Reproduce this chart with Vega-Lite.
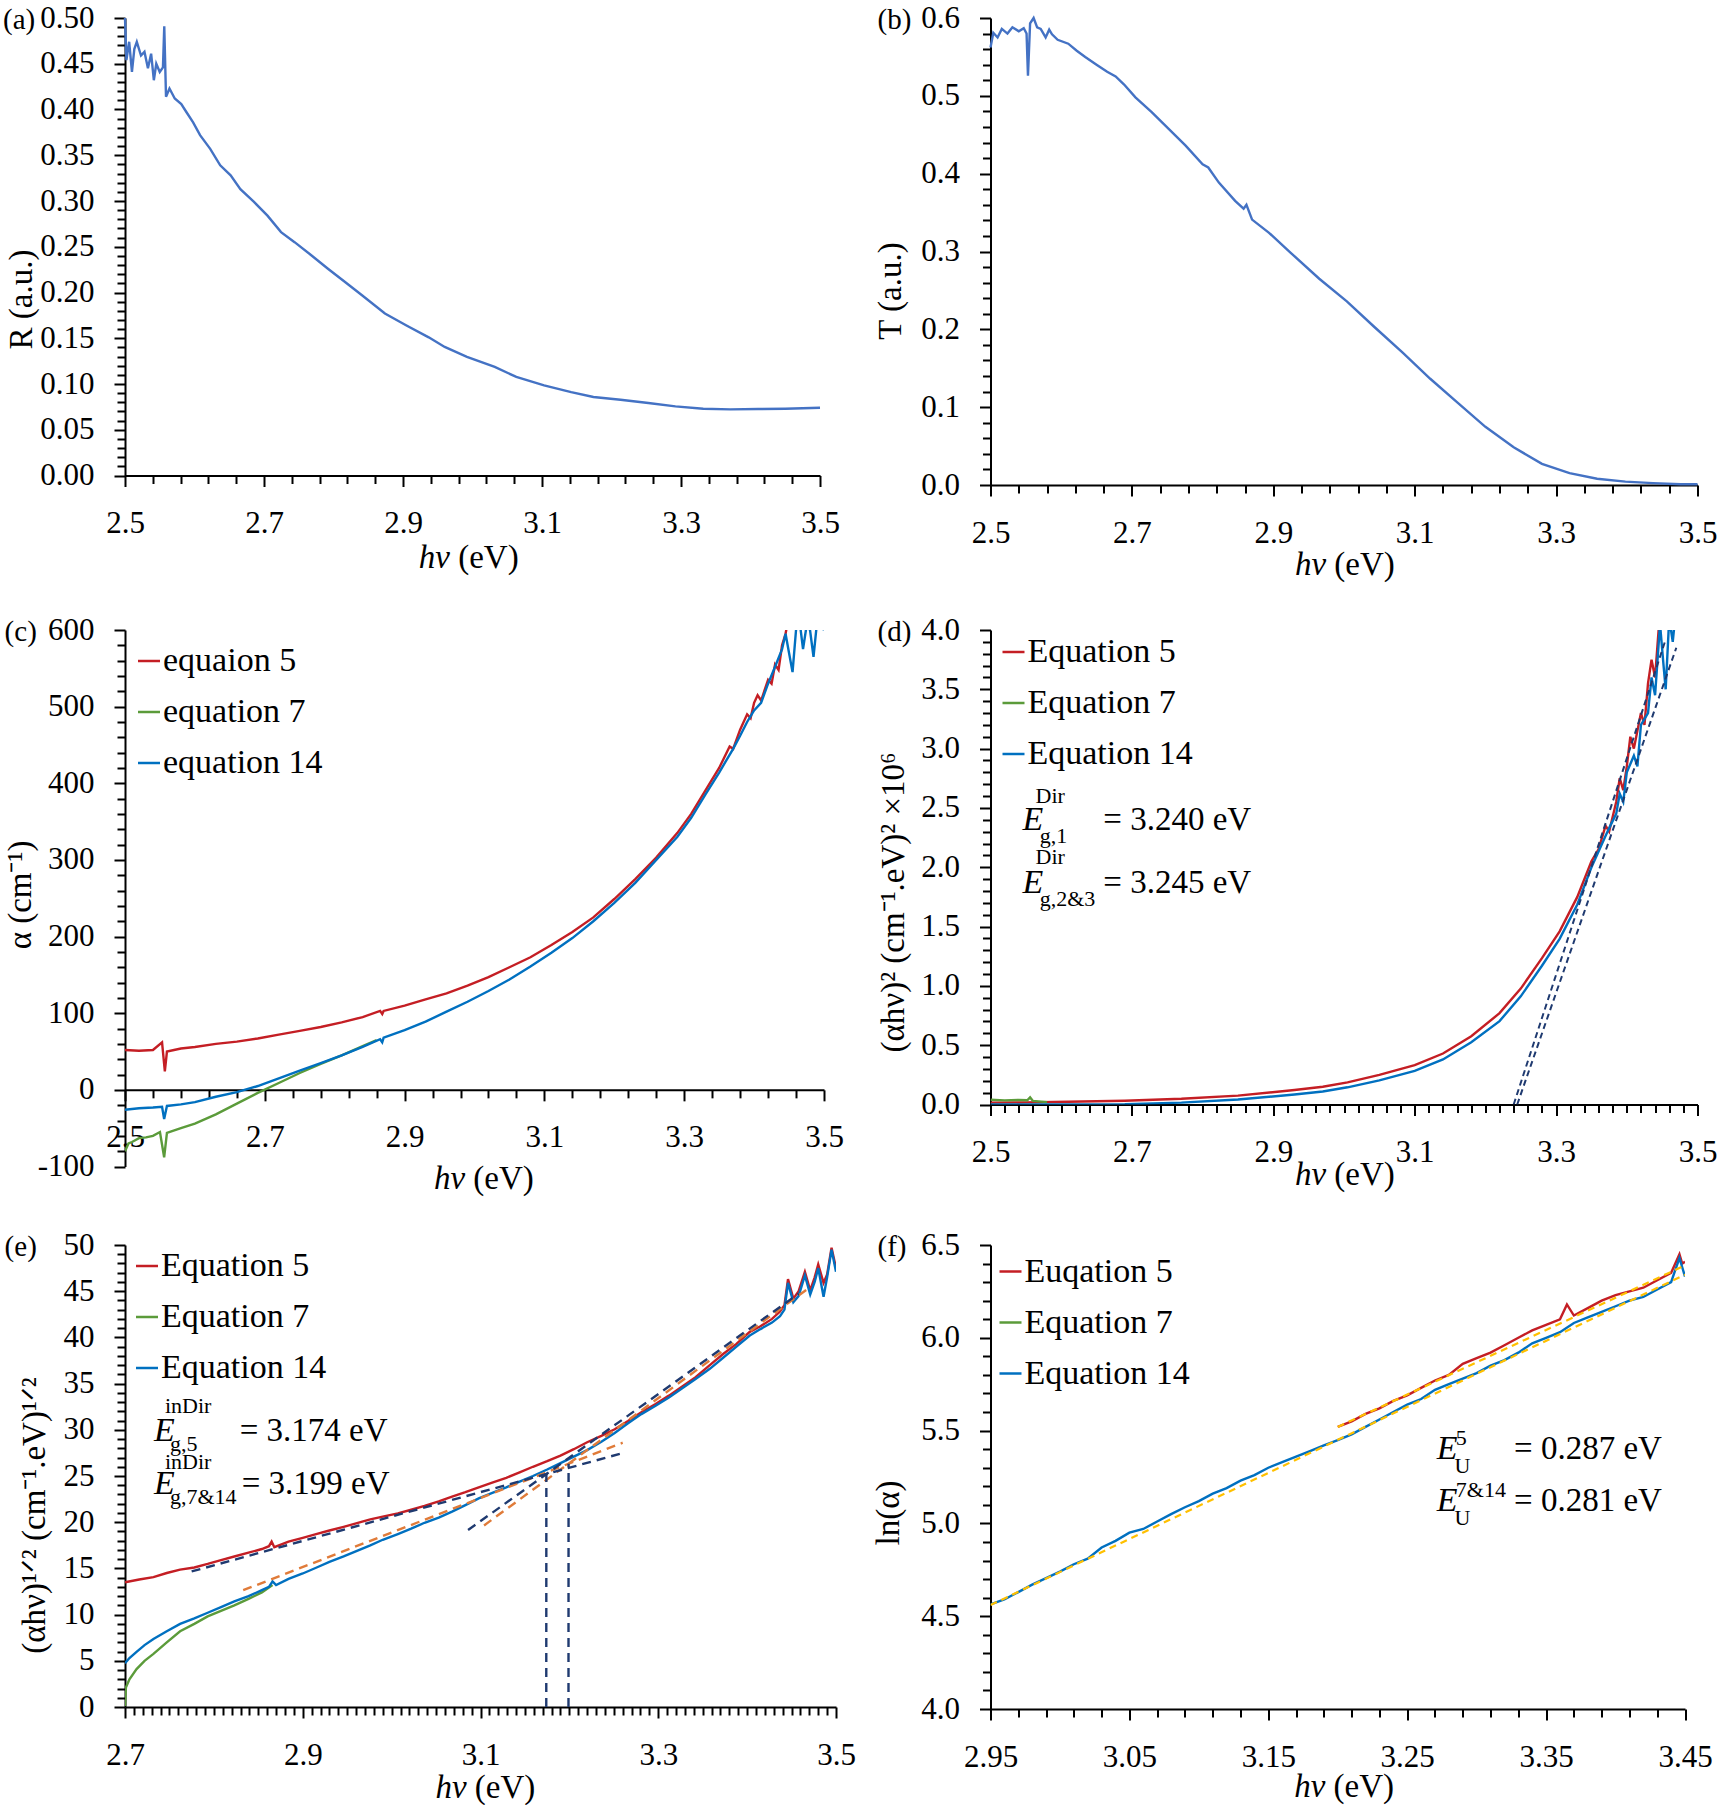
{
"$schema": "https://vega.github.io/schema/vega-lite/v6.json",
"padding": {"left": 3, "top": 2, "right": 0, "bottom": 0},
"background": "white",
"columns": 2,
"spacing": {"row": 32, "column": 16.5},
"bounds": "full",
"resolve": {"scale": {"color": "independent"}, "legend": {"color": "independent"}},
"config": {
 "font": "Liberation Serif",
 "view": {"stroke": null},
 "axis": {"grid": false, "domainColor": "black", "domainWidth": 2, "tickColor": "black", "tickWidth": 2, "labelColor": "black", "labelFont": "Liberation Serif", "labelFontSize": 31, "titleFont": "Liberation Serif", "titleFontSize": 33, "titleFontWeight": "normal", "titleColor": "black", "labelOverlap": false, "labelFlush": false, "labelBound": false, "tickCount": 200},
 "axisX": {"labelPadding": 22},
 "axisY": {"labelPadding": 20},
 "legend": {"labelFont": "Liberation Serif", "labelFontSize": 34, "labelColor": "black", "symbolType": "stroke", "symbolStrokeWidth": 2.5, "symbolSize": 484, "labelOffset": -3, "padding": 0, "rowPadding": 17, "offset": 0, "labelLimit": 400},
 "text": {"font": "Liberation Serif", "fontSize": 33, "color": "black"}
},
"datasets": {
 "a": [{"x":2.5,"y":0.5},{"x":2.502,"y":0.454},{"x":2.506,"y":0.474},{"x":2.51,"y":0.441},{"x":2.5134,"y":0.466},{"x":2.517,"y":0.474},{"x":2.523,"y":0.459},{"x":2.528,"y":0.463},{"x":2.533,"y":0.445},{"x":2.5376,"y":0.461},{"x":2.5415,"y":0.432},{"x":2.545,"y":0.45},{"x":2.55,"y":0.441},{"x":2.5546,"y":0.446},{"x":2.5565,"y":0.491},{"x":2.559,"y":0.414},{"x":2.564,"y":0.423},{"x":2.5716,"y":0.412},{"x":2.581,"y":0.406},{"x":2.5885,"y":0.397},{"x":2.598,"y":0.386},{"x":2.608,"y":0.372},{"x":2.6226,"y":0.357},{"x":2.637,"y":0.339},{"x":2.652,"y":0.328},{"x":2.666,"y":0.313},{"x":2.6856,"y":0.299},{"x":2.705,"y":0.284},{"x":2.7245,"y":0.266},{"x":2.744,"y":0.255},{"x":2.768,"y":0.2407},{"x":2.792,"y":0.226},{"x":2.8166,"y":0.2115},{"x":2.841,"y":0.197},{"x":2.874,"y":0.177},{"x":2.905,"y":0.164},{"x":2.937,"y":0.151},{"x":2.96,"y":0.1405},{"x":2.992,"y":0.1296},{"x":3.032,"y":0.1186},{"x":3.063,"y":0.1077},{"x":3.103,"y":0.0985},{"x":3.142,"y":0.0912},{"x":3.174,"y":0.0858},{"x":3.213,"y":0.0828},{"x":3.253,"y":0.0792},{"x":3.292,"y":0.0755},{"x":3.332,"y":0.073},{"x":3.371,"y":0.0723},{"x":3.411,"y":0.0726},{"x":3.45,"y":0.073},{"x":3.5,"y":0.074}],
 "b": [{"x":2.5,"y":0.562},{"x":2.504,"y":0.581},{"x":2.51,"y":0.575},{"x":2.516,"y":0.586},{"x":2.524,"y":0.58},{"x":2.531,"y":0.588},{"x":2.54,"y":0.583},{"x":2.547,"y":0.587},{"x":2.551,"y":0.58},{"x":2.553,"y":0.526},{"x":2.556,"y":0.593},{"x":2.561,"y":0.6},{"x":2.566,"y":0.588},{"x":2.571,"y":0.586},{"x":2.578,"y":0.575},{"x":2.583,"y":0.585},{"x":2.587,"y":0.579},{"x":2.595,"y":0.572},{"x":2.61,"y":0.567},{"x":2.622,"y":0.558},{"x":2.634,"y":0.55},{"x":2.65,"y":0.54},{"x":2.665,"y":0.531},{"x":2.677,"y":0.525},{"x":2.689,"y":0.5145},{"x":2.705,"y":0.498},{"x":2.728,"y":0.479},{"x":2.752,"y":0.4575},{"x":2.776,"y":0.436},{"x":2.8,"y":0.412},{"x":2.808,"y":0.408},{"x":2.823,"y":0.3885},{"x":2.846,"y":0.365},{"x":2.858,"y":0.355},{"x":2.862,"y":0.36},{"x":2.87,"y":0.341},{"x":2.894,"y":0.324},{"x":2.925,"y":0.298},{"x":2.965,"y":0.265},{"x":3.004,"y":0.236},{"x":3.043,"y":0.203},{"x":3.083,"y":0.17},{"x":3.122,"y":0.1365},{"x":3.161,"y":0.1056},{"x":3.2,"y":0.0748},{"x":3.24,"y":0.0485},{"x":3.28,"y":0.0271},{"x":3.319,"y":0.0152},{"x":3.358,"y":0.0081},{"x":3.398,"y":0.0043},{"x":3.437,"y":0.0024},{"x":3.476,"y":0.001},{"x":3.5,"y":0.001}],
 "c": [
  {"s":"equaion 5","x":2.5,"y":52},{"s":"equaion 5","x":2.52,"y":51},{"s":"equaion 5","x":2.54,"y":52},{"s":"equaion 5","x":2.553,"y":62},{"s":"equaion 5","x":2.557,"y":24},{"s":"equaion 5","x":2.56,"y":50},{"s":"equaion 5","x":2.58,"y":54},{"s":"equaion 5","x":2.6,"y":56},{"s":"equaion 5","x":2.63,"y":60},{"s":"equaion 5","x":2.66,"y":63},{"s":"equaion 5","x":2.69,"y":67},{"s":"equaion 5","x":2.72,"y":72},{"s":"equaion 5","x":2.75,"y":77},{"s":"equaion 5","x":2.78,"y":82},{"s":"equaion 5","x":2.81,"y":88},{"s":"equaion 5","x":2.84,"y":95},{"s":"equaion 5","x":2.865,"y":103},{"s":"equaion 5","x":2.868,"y":99},{"s":"equaion 5","x":2.87,"y":103},{"s":"equaion 5","x":2.9,"y":110},{"s":"equaion 5","x":2.93,"y":118},{"s":"equaion 5","x":2.96,"y":126},{"s":"equaion 5","x":2.99,"y":136},{"s":"equaion 5","x":3.02,"y":147},{"s":"equaion 5","x":3.05,"y":160},{"s":"equaion 5","x":3.08,"y":173},{"s":"equaion 5","x":3.11,"y":189},{"s":"equaion 5","x":3.14,"y":206},{"s":"equaion 5","x":3.17,"y":225},{"s":"equaion 5","x":3.2,"y":249},{"s":"equaion 5","x":3.23,"y":275},{"s":"equaion 5","x":3.26,"y":303},{"s":"equaion 5","x":3.29,"y":335},{"s":"equaion 5","x":3.31,"y":360},{"s":"equaion 5","x":3.33,"y":390},{"s":"equaion 5","x":3.35,"y":420},{"s":"equaion 5","x":3.365,"y":448},{"s":"equaion 5","x":3.37,"y":445},{"s":"equaion 5","x":3.38,"y":470},{"s":"equaion 5","x":3.39,"y":490},{"s":"equaion 5","x":3.395,"y":485},{"s":"equaion 5","x":3.4,"y":505},{"s":"equaion 5","x":3.405,"y":515},{"s":"equaion 5","x":3.41,"y":508},{"s":"equaion 5","x":3.42,"y":535},{"s":"equaion 5","x":3.425,"y":530},{"s":"equaion 5","x":3.43,"y":555},{"s":"equaion 5","x":3.435,"y":548},{"s":"equaion 5","x":3.44,"y":580},{"s":"equaion 5","x":3.445,"y":595},{"s":"equaion 5","x":3.45,"y":620},
  {"s":"equation 7","x":2.5,"y":-80},{"s":"equation 7","x":2.505,"y":-70},{"s":"equation 7","x":2.51,"y":-68},{"s":"equation 7","x":2.52,"y":-63},{"s":"equation 7","x":2.53,"y":-62},{"s":"equation 7","x":2.54,"y":-60},{"s":"equation 7","x":2.55,"y":-55},{"s":"equation 7","x":2.556,"y":-88},{"s":"equation 7","x":2.56,"y":-56},{"s":"equation 7","x":2.58,"y":-50},{"s":"equation 7","x":2.6,"y":-44},{"s":"equation 7","x":2.63,"y":-32},{"s":"equation 7","x":2.66,"y":-18},{"s":"equation 7","x":2.69,"y":-4},{"s":"equation 7","x":2.72,"y":9},{"s":"equation 7","x":2.75,"y":22},{"s":"equation 7","x":2.78,"y":34},{"s":"equation 7","x":2.81,"y":45},{"s":"equation 7","x":2.84,"y":57},{"s":"equation 7","x":2.86,"y":65},
  {"s":"equation 14","x":2.5,"y":-26},{"s":"equation 14","x":2.52,"y":-24},{"s":"equation 14","x":2.54,"y":-23},{"s":"equation 14","x":2.553,"y":-22},{"s":"equation 14","x":2.556,"y":-38},{"s":"equation 14","x":2.56,"y":-21},{"s":"equation 14","x":2.58,"y":-19},{"s":"equation 14","x":2.6,"y":-16},{"s":"equation 14","x":2.63,"y":-9},{"s":"equation 14","x":2.66,"y":-3},{"s":"equation 14","x":2.69,"y":5},{"s":"equation 14","x":2.72,"y":15},{"s":"equation 14","x":2.75,"y":25},{"s":"equation 14","x":2.78,"y":35},{"s":"equation 14","x":2.81,"y":45},{"s":"equation 14","x":2.84,"y":56},{"s":"equation 14","x":2.865,"y":66},{"s":"equation 14","x":2.868,"y":62},{"s":"equation 14","x":2.87,"y":68},{"s":"equation 14","x":2.9,"y":78},{"s":"equation 14","x":2.93,"y":89},{"s":"equation 14","x":2.96,"y":102},{"s":"equation 14","x":2.99,"y":115},{"s":"equation 14","x":3.02,"y":129},{"s":"equation 14","x":3.05,"y":144},{"s":"equation 14","x":3.08,"y":161},{"s":"equation 14","x":3.11,"y":179},{"s":"equation 14","x":3.14,"y":198},{"s":"equation 14","x":3.17,"y":220},{"s":"equation 14","x":3.2,"y":244},{"s":"equation 14","x":3.23,"y":270},{"s":"equation 14","x":3.26,"y":300},{"s":"equation 14","x":3.29,"y":330},{"s":"equation 14","x":3.31,"y":355},{"s":"equation 14","x":3.33,"y":385},{"s":"equation 14","x":3.35,"y":414},{"s":"equation 14","x":3.37,"y":445},{"s":"equation 14","x":3.38,"y":462},{"s":"equation 14","x":3.39,"y":480},{"s":"equation 14","x":3.4,"y":495},{"s":"equation 14","x":3.41,"y":505},{"s":"equation 14","x":3.42,"y":530},{"s":"equation 14","x":3.43,"y":552},{"s":"equation 14","x":3.44,"y":575},{"s":"equation 14","x":3.445,"y":595},{"s":"equation 14","x":3.45,"y":570},{"s":"equation 14","x":3.455,"y":545},{"s":"equation 14","x":3.46,"y":600},{"s":"equation 14","x":3.465,"y":612},{"s":"equation 14","x":3.47,"y":575},{"s":"equation 14","x":3.475,"y":605},{"s":"equation 14","x":3.48,"y":600},{"s":"equation 14","x":3.485,"y":565},{"s":"equation 14","x":3.49,"y":610},{"s":"equation 14","x":3.5,"y":600}
 ],
 "d": [
  {"s":"Equation 5","x":2.5,"y":0.016},{"s":"Equation 5","x":2.55,"y":0.018},{"s":"Equation 5","x":2.61,"y":0.023},{"s":"Equation 5","x":2.69,"y":0.032},{"s":"Equation 5","x":2.77,"y":0.048},{"s":"Equation 5","x":2.85,"y":0.075},{"s":"Equation 5","x":2.93,"y":0.122},{"s":"Equation 5","x":2.97,"y":0.15},{"s":"Equation 5","x":3.005,"y":0.187},{"s":"Equation 5","x":3.05,"y":0.25},{"s":"Equation 5","x":3.1,"y":0.332},{"s":"Equation 5","x":3.14,"y":0.43},{"s":"Equation 5","x":3.18,"y":0.575},{"s":"Equation 5","x":3.22,"y":0.77},{"s":"Equation 5","x":3.25,"y":0.977},{"s":"Equation 5","x":3.28,"y":1.234},{"s":"Equation 5","x":3.305,"y":1.46},{"s":"Equation 5","x":3.33,"y":1.75},{"s":"Equation 5","x":3.35,"y":2.05},{"s":"Equation 5","x":3.36,"y":2.15},{"s":"Equation 5","x":3.37,"y":2.35},{"s":"Equation 5","x":3.375,"y":2.3},{"s":"Equation 5","x":3.385,"y":2.55},{"s":"Equation 5","x":3.39,"y":2.75},{"s":"Equation 5","x":3.395,"y":2.65},{"s":"Equation 5","x":3.4,"y":2.85},{"s":"Equation 5","x":3.405,"y":3.1},{"s":"Equation 5","x":3.41,"y":3.0},{"s":"Equation 5","x":3.42,"y":3.3},{"s":"Equation 5","x":3.425,"y":3.2},{"s":"Equation 5","x":3.43,"y":3.55},{"s":"Equation 5","x":3.435,"y":3.75},{"s":"Equation 5","x":3.44,"y":3.6},{"s":"Equation 5","x":3.445,"y":4.0},{"s":"Equation 5","x":3.45,"y":4.2},
  {"s":"Equation 7","x":2.5,"y":0.04},{"s":"Equation 7","x":2.52,"y":0.035},{"s":"Equation 7","x":2.54,"y":0.038},{"s":"Equation 7","x":2.552,"y":0.036},{"s":"Equation 7","x":2.556,"y":0.06},{"s":"Equation 7","x":2.56,"y":0.03},{"s":"Equation 7","x":2.58,"y":0.02},
  {"s":"Equation 14","x":2.5,"y":0.0},{"s":"Equation 14","x":2.6,"y":0.001},{"s":"Equation 14","x":2.69,"y":0.003},{"s":"Equation 14","x":2.77,"y":0.016},{"s":"Equation 14","x":2.85,"y":0.042},{"s":"Equation 14","x":2.93,"y":0.084},{"s":"Equation 14","x":2.97,"y":0.11},{"s":"Equation 14","x":3.005,"y":0.145},{"s":"Equation 14","x":3.05,"y":0.203},{"s":"Equation 14","x":3.1,"y":0.284},{"s":"Equation 14","x":3.14,"y":0.38},{"s":"Equation 14","x":3.18,"y":0.525},{"s":"Equation 14","x":3.22,"y":0.703},{"s":"Equation 14","x":3.25,"y":0.912},{"s":"Equation 14","x":3.28,"y":1.17},{"s":"Equation 14","x":3.305,"y":1.396},{"s":"Equation 14","x":3.33,"y":1.686},{"s":"Equation 14","x":3.35,"y":2.0},{"s":"Equation 14","x":3.375,"y":2.33},{"s":"Equation 14","x":3.385,"y":2.45},{"s":"Equation 14","x":3.39,"y":2.62},{"s":"Equation 14","x":3.395,"y":2.55},{"s":"Equation 14","x":3.4,"y":2.8},{"s":"Equation 14","x":3.41,"y":2.94},{"s":"Equation 14","x":3.415,"y":2.85},{"s":"Equation 14","x":3.42,"y":3.2},{"s":"Equation 14","x":3.43,"y":3.3},{"s":"Equation 14","x":3.435,"y":3.6},{"s":"Equation 14","x":3.44,"y":3.45},{"s":"Equation 14","x":3.447,"y":4.05},{"s":"Equation 14","x":3.452,"y":3.7},{"s":"Equation 14","x":3.455,"y":3.5},{"s":"Equation 14","x":3.46,"y":4.1},{"s":"Equation 14","x":3.465,"y":3.9},{"s":"Equation 14","x":3.47,"y":4.2}
 ],
 "dfit": [{"g":"d1","x":3.24,"y":0},{"g":"d1","x":3.455,"y":3.92},{"g":"d2","x":3.245,"y":0},{"g":"d2","x":3.47,"y":3.85}],
 "e": [
  {"s":"Equation 5","x":2.7,"y":13.5},{"s":"Equation 5","x":2.716,"y":13.8},{"s":"Equation 5","x":2.732,"y":14.06},{"s":"Equation 5","x":2.747,"y":14.5},{"s":"Equation 5","x":2.762,"y":14.87},{"s":"Equation 5","x":2.778,"y":15.1},{"s":"Equation 5","x":2.793,"y":15.48},{"s":"Equation 5","x":2.808,"y":15.9},{"s":"Equation 5","x":2.823,"y":16.29},{"s":"Equation 5","x":2.839,"y":16.7},{"s":"Equation 5","x":2.854,"y":17.1},{"s":"Equation 5","x":2.862,"y":17.4},{"s":"Equation 5","x":2.865,"y":17.9},{"s":"Equation 5","x":2.868,"y":17.3},{"s":"Equation 5","x":2.884,"y":17.9},{"s":"Equation 5","x":2.9,"y":18.3},{"s":"Equation 5","x":2.915,"y":18.7},{"s":"Equation 5","x":2.93,"y":19.1},{"s":"Equation 5","x":2.946,"y":19.5},{"s":"Equation 5","x":2.961,"y":19.9},{"s":"Equation 5","x":2.976,"y":20.3},{"s":"Equation 5","x":2.99,"y":20.6},{"s":"Equation 5","x":3.007,"y":20.95},{"s":"Equation 5","x":3.022,"y":21.35},{"s":"Equation 5","x":3.037,"y":21.76},{"s":"Equation 5","x":3.053,"y":22.25},{"s":"Equation 5","x":3.068,"y":22.77},{"s":"Equation 5","x":3.083,"y":23.25},{"s":"Equation 5","x":3.098,"y":23.78},{"s":"Equation 5","x":3.114,"y":24.3},{"s":"Equation 5","x":3.129,"y":24.8},{"s":"Equation 5","x":3.144,"y":25.4},{"s":"Equation 5","x":3.159,"y":26.0},{"s":"Equation 5","x":3.175,"y":26.6},{"s":"Equation 5","x":3.19,"y":27.2},{"s":"Equation 5","x":3.205,"y":27.9},{"s":"Equation 5","x":3.22,"y":28.65},{"s":"Equation 5","x":3.236,"y":29.35},{"s":"Equation 5","x":3.251,"y":30.06},{"s":"Equation 5","x":3.266,"y":30.95},{"s":"Equation 5","x":3.281,"y":31.9},{"s":"Equation 5","x":3.297,"y":32.8},{"s":"Equation 5","x":3.312,"y":33.7},{"s":"Equation 5","x":3.327,"y":34.7},{"s":"Equation 5","x":3.342,"y":35.7},{"s":"Equation 5","x":3.358,"y":37.0},{"s":"Equation 5","x":3.373,"y":38.2},{"s":"Equation 5","x":3.388,"y":39.3},{"s":"Equation 5","x":3.403,"y":40.6},{"s":"Equation 5","x":3.415,"y":41.2},{"s":"Equation 5","x":3.428,"y":42.0},{"s":"Equation 5","x":3.437,"y":42.8},{"s":"Equation 5","x":3.442,"y":43.5},{"s":"Equation 5","x":3.446,"y":46.3},{"s":"Equation 5","x":3.452,"y":44.2},{"s":"Equation 5","x":3.458,"y":45.0},{"s":"Equation 5","x":3.465,"y":47.1},{"s":"Equation 5","x":3.471,"y":45.1},{"s":"Equation 5","x":3.476,"y":46.5},{"s":"Equation 5","x":3.48,"y":47.9},{"s":"Equation 5","x":3.486,"y":45.9},{"s":"Equation 5","x":3.49,"y":46.8},{"s":"Equation 5","x":3.495,"y":49.7},{"s":"Equation 5","x":3.5,"y":47.5},
  {"s":"Equation 7","x":2.7,"y":0.1},{"s":"Equation 7","x":2.701,"y":2.1},{"s":"Equation 7","x":2.705,"y":3.0},{"s":"Equation 7","x":2.713,"y":4.1},{"s":"Equation 7","x":2.722,"y":5.0},{"s":"Equation 7","x":2.732,"y":5.75},{"s":"Equation 7","x":2.747,"y":7.0},{"s":"Equation 7","x":2.762,"y":8.2},{"s":"Equation 7","x":2.778,"y":9.0},{"s":"Equation 7","x":2.793,"y":9.8},{"s":"Equation 7","x":2.808,"y":10.4},{"s":"Equation 7","x":2.823,"y":11.0},{"s":"Equation 7","x":2.839,"y":11.7},{"s":"Equation 7","x":2.854,"y":12.4},{"s":"Equation 7","x":2.866,"y":13.2},
  {"s":"Equation 14","x":2.7,"y":4.74},{"s":"Equation 14","x":2.705,"y":5.3},{"s":"Equation 14","x":2.713,"y":5.96},{"s":"Equation 14","x":2.722,"y":6.7},{"s":"Equation 14","x":2.732,"y":7.37},{"s":"Equation 14","x":2.747,"y":8.2},{"s":"Equation 14","x":2.762,"y":9.0},{"s":"Equation 14","x":2.778,"y":9.6},{"s":"Equation 14","x":2.793,"y":10.2},{"s":"Equation 14","x":2.808,"y":10.8},{"s":"Equation 14","x":2.823,"y":11.43},{"s":"Equation 14","x":2.839,"y":12.0},{"s":"Equation 14","x":2.854,"y":12.64},{"s":"Equation 14","x":2.862,"y":13.0},{"s":"Equation 14","x":2.866,"y":13.6},{"s":"Equation 14","x":2.87,"y":13.2},{"s":"Equation 14","x":2.884,"y":13.86},{"s":"Equation 14","x":2.9,"y":14.45},{"s":"Equation 14","x":2.915,"y":15.07},{"s":"Equation 14","x":2.93,"y":15.7},{"s":"Equation 14","x":2.946,"y":16.29},{"s":"Equation 14","x":2.961,"y":16.9},{"s":"Equation 14","x":2.976,"y":17.5},{"s":"Equation 14","x":2.99,"y":18.1},{"s":"Equation 14","x":3.007,"y":18.72},{"s":"Equation 14","x":3.022,"y":19.3},{"s":"Equation 14","x":3.037,"y":19.94},{"s":"Equation 14","x":3.053,"y":20.5},{"s":"Equation 14","x":3.068,"y":21.15},{"s":"Equation 14","x":3.083,"y":21.85},{"s":"Equation 14","x":3.098,"y":22.57},{"s":"Equation 14","x":3.114,"y":23.2},{"s":"Equation 14","x":3.129,"y":23.78},{"s":"Equation 14","x":3.144,"y":24.4},{"s":"Equation 14","x":3.159,"y":25.0},{"s":"Equation 14","x":3.175,"y":25.7},{"s":"Equation 14","x":3.19,"y":26.4},{"s":"Equation 14","x":3.205,"y":27.1},{"s":"Equation 14","x":3.22,"y":27.8},{"s":"Equation 14","x":3.236,"y":28.7},{"s":"Equation 14","x":3.251,"y":29.66},{"s":"Equation 14","x":3.266,"y":30.7},{"s":"Equation 14","x":3.281,"y":31.7},{"s":"Equation 14","x":3.297,"y":32.6},{"s":"Equation 14","x":3.312,"y":33.5},{"s":"Equation 14","x":3.327,"y":34.5},{"s":"Equation 14","x":3.342,"y":35.5},{"s":"Equation 14","x":3.358,"y":36.6},{"s":"Equation 14","x":3.373,"y":37.8},{"s":"Equation 14","x":3.388,"y":39.0},{"s":"Equation 14","x":3.403,"y":40.2},{"s":"Equation 14","x":3.415,"y":40.9},{"s":"Equation 14","x":3.428,"y":41.6},{"s":"Equation 14","x":3.437,"y":42.3},{"s":"Equation 14","x":3.442,"y":43.0},{"s":"Equation 14","x":3.446,"y":45.9},{"s":"Equation 14","x":3.452,"y":43.8},{"s":"Equation 14","x":3.458,"y":44.5},{"s":"Equation 14","x":3.465,"y":46.7},{"s":"Equation 14","x":3.471,"y":44.65},{"s":"Equation 14","x":3.476,"y":46.0},{"s":"Equation 14","x":3.48,"y":47.5},{"s":"Equation 14","x":3.486,"y":44.4},{"s":"Equation 14","x":3.49,"y":46.5},{"s":"Equation 14","x":3.495,"y":49.5},{"s":"Equation 14","x":3.5,"y":47.1}
 ],
 "efitN": [{"g":"n1","x":2.775,"y":14.67},{"g":"n1","x":3.257,"y":27.4},{"g":"n2","x":3.086,"y":19.15},{"g":"n2","x":3.458,"y":44.74},{"g":"n3","x":3.174,"y":0},{"g":"n3","x":3.1741,"y":25.2},{"g":"n4","x":3.199,"y":0},{"g":"n4","x":3.1991,"y":26.33}],
 "efitO": [{"g":"o1","x":2.833,"y":12.64},{"g":"o1","x":3.26,"y":28.6},{"g":"o2","x":3.104,"y":19.65},{"g":"o2","x":3.471,"y":45.45}],
 "f": [
  {"s":"Euqation 5","x":3.2,"y":5.52},{"s":"Euqation 5","x":3.21,"y":5.55},{"s":"Euqation 5","x":3.22,"y":5.59},{"s":"Euqation 5","x":3.23,"y":5.62},{"s":"Euqation 5","x":3.24,"y":5.66},{"s":"Euqation 5","x":3.25,"y":5.69},{"s":"Euqation 5","x":3.26,"y":5.73},{"s":"Euqation 5","x":3.27,"y":5.77},{"s":"Euqation 5","x":3.28,"y":5.8},{"s":"Euqation 5","x":3.29,"y":5.86},{"s":"Euqation 5","x":3.3,"y":5.89},{"s":"Euqation 5","x":3.31,"y":5.92},{"s":"Euqation 5","x":3.32,"y":5.96},{"s":"Euqation 5","x":3.33,"y":6.0},{"s":"Euqation 5","x":3.34,"y":6.04},{"s":"Euqation 5","x":3.35,"y":6.07},{"s":"Euqation 5","x":3.36,"y":6.1},{"s":"Euqation 5","x":3.365,"y":6.18},{"s":"Euqation 5","x":3.37,"y":6.12},{"s":"Euqation 5","x":3.38,"y":6.16},{"s":"Euqation 5","x":3.39,"y":6.2},{"s":"Euqation 5","x":3.4,"y":6.23},{"s":"Euqation 5","x":3.41,"y":6.25},{"s":"Euqation 5","x":3.42,"y":6.27},{"s":"Euqation 5","x":3.43,"y":6.31},{"s":"Euqation 5","x":3.44,"y":6.35},{"s":"Euqation 5","x":3.446,"y":6.45},{"s":"Euqation 5","x":3.448,"y":6.4},{"s":"Euqation 5","x":3.45,"y":6.41},
  {"s":"Equation 14","x":2.95,"y":4.564},{"s":"Equation 14","x":2.96,"y":4.59},{"s":"Equation 14","x":2.97,"y":4.63},{"s":"Equation 14","x":2.98,"y":4.67},{"s":"Equation 14","x":2.99,"y":4.705},{"s":"Equation 14","x":3.0,"y":4.74},{"s":"Equation 14","x":3.01,"y":4.78},{"s":"Equation 14","x":3.02,"y":4.81},{"s":"Equation 14","x":3.03,"y":4.87},{"s":"Equation 14","x":3.04,"y":4.906},{"s":"Equation 14","x":3.05,"y":4.95},{"s":"Equation 14","x":3.06,"y":4.97},{"s":"Equation 14","x":3.07,"y":5.01},{"s":"Equation 14","x":3.08,"y":5.05},{"s":"Equation 14","x":3.09,"y":5.087},{"s":"Equation 14","x":3.1,"y":5.12},{"s":"Equation 14","x":3.11,"y":5.16},{"s":"Equation 14","x":3.12,"y":5.19},{"s":"Equation 14","x":3.13,"y":5.23},{"s":"Equation 14","x":3.14,"y":5.26},{"s":"Equation 14","x":3.15,"y":5.3},{"s":"Equation 14","x":3.16,"y":5.33},{"s":"Equation 14","x":3.17,"y":5.36},{"s":"Equation 14","x":3.18,"y":5.39},{"s":"Equation 14","x":3.19,"y":5.42},{"s":"Equation 14","x":3.2,"y":5.449},{"s":"Equation 14","x":3.21,"y":5.48},{"s":"Equation 14","x":3.22,"y":5.52},{"s":"Equation 14","x":3.23,"y":5.56},{"s":"Equation 14","x":3.24,"y":5.6},{"s":"Equation 14","x":3.25,"y":5.64},{"s":"Equation 14","x":3.26,"y":5.67},{"s":"Equation 14","x":3.27,"y":5.72},{"s":"Equation 14","x":3.28,"y":5.75},{"s":"Equation 14","x":3.29,"y":5.78},{"s":"Equation 14","x":3.3,"y":5.81},{"s":"Equation 14","x":3.31,"y":5.85},{"s":"Equation 14","x":3.32,"y":5.88},{"s":"Equation 14","x":3.33,"y":5.92},{"s":"Equation 14","x":3.34,"y":5.97},{"s":"Equation 14","x":3.35,"y":6.0},{"s":"Equation 14","x":3.36,"y":6.03},{"s":"Equation 14","x":3.37,"y":6.08},{"s":"Equation 14","x":3.38,"y":6.11},{"s":"Equation 14","x":3.39,"y":6.14},{"s":"Equation 14","x":3.4,"y":6.17},{"s":"Equation 14","x":3.41,"y":6.2},{"s":"Equation 14","x":3.42,"y":6.22},{"s":"Equation 14","x":3.43,"y":6.26},{"s":"Equation 14","x":3.44,"y":6.3},{"s":"Equation 14","x":3.446,"y":6.43},{"s":"Equation 14","x":3.448,"y":6.38},{"s":"Equation 14","x":3.45,"y":6.33}
 ],
 "ffit": [{"g":"y1","x":2.95,"y":4.56},{"g":"y1","x":3.45,"y":6.34},{"g":"y2","x":3.2,"y":5.52},{"g":"y2","x":3.45,"y":6.39}]
},
"concat": [
 {
  "width": 695, "height": 457.5,
  "layer": [
   {"data": {"name": "a"}, "mark": {"type": "line", "color": "#4472C4", "strokeWidth": 2.4},
    "encoding": {
     "x": {"field": "x", "type": "quantitative", "scale": {"domain": [2.5, 3.5], "nice": false, "zero": false},
       "axis": {"title": null, "tickCount": 200, "values": [2.5,2.54,2.58,2.62,2.66,2.7,2.74,2.78,2.82,2.86,2.9,2.94,2.98,3.02,3.06,3.1,3.14,3.18,3.22,3.26,3.3,3.34,3.38,3.42,3.46,3.5],
        "labelExpr": "abs((datum.value-2.5)/0.2-round((datum.value-2.5)/0.2))<0.01 ? format(datum.value,'.1f') : ''",
        "tickSize": {"condition": {"test": "abs((datum.value-2.5)/0.2-round((datum.value-2.5)/0.2))<0.01", "value": 11}, "value": 8}}},
     "y": {"field": "y", "type": "quantitative", "scale": {"domain": [0, 0.5], "nice": false},
       "axis": {"title": "R (a.u.)", "titleX": -104, "titleY": 281, "titleBaseline": "middle", "titleAlign": "center", "titleAngle": -90, "tickCount": 200,
        "values": [0,0.01,0.02,0.03,0.04,0.05,0.06,0.07,0.08,0.09,0.1,0.11,0.12,0.13,0.14,0.15,0.16,0.17,0.18,0.19,0.2,0.21,0.22,0.23,0.24,0.25,0.26,0.27,0.28,0.29,0.3,0.31,0.32,0.33,0.34,0.35,0.36,0.37,0.38,0.39,0.4,0.41,0.42,0.43,0.44,0.45,0.46,0.47,0.48,0.49,0.5],
        "labelExpr": "abs(datum.value/0.05-round(datum.value/0.05))<0.01 ? format(datum.value,'.2f') : ''",
        "tickSize": {"condition": {"test": "abs(datum.value/0.05-round(datum.value/0.05))<0.01", "value": 11}, "value": 8}}}
    }},
   {"data": {"values": [{}]}, "mark": {"type": "text", "text": "(a)", "align": "left", "baseline": "middle", "dx": -122, "dy": 2, "fontSize": 29}, "encoding": {"x": {"datum": 2.5}, "y": {"datum": 0.5}}},
   {"data": {"values": [{}]}, "mark": {"type": "text", "text": "hν", "align": "right", "baseline": "middle", "dx": -4.1, "dy": 82.5, "fontStyle": "italic"}, "encoding": {"x": {"datum": 2.9735}, "y": {"datum": 0}}},
   {"data": {"values": [{}]}, "mark": {"type": "text", "text": "(eV)", "align": "left", "baseline": "middle", "dx": 4.1, "dy": 82.5}, "encoding": {"x": {"datum": 2.9735}, "y": {"datum": 0}}}
  ]
 },
 {
  "width": 707, "height": 467,
  "layer": [
   {"data": {"name": "b"}, "mark": {"type": "line", "color": "#4472C4", "strokeWidth": 2.4},
    "encoding": {
     "x": {"field": "x", "type": "quantitative", "scale": {"domain": [2.5, 3.5], "nice": false, "zero": false},
       "axis": {"title": null, "tickCount": 200, "values": [2.5,2.54,2.58,2.62,2.66,2.7,2.74,2.78,2.82,2.86,2.9,2.94,2.98,3.02,3.06,3.1,3.14,3.18,3.22,3.26,3.3,3.34,3.38,3.42,3.46,3.5],
        "labelExpr": "abs((datum.value-2.5)/0.2-round((datum.value-2.5)/0.2))<0.01 ? format(datum.value,'.1f') : ''",
        "tickSize": {"condition": {"test": "abs((datum.value-2.5)/0.2-round((datum.value-2.5)/0.2))<0.01", "value": 11}, "value": 8}}},
     "y": {"field": "y", "type": "quantitative", "scale": {"domain": [0, 0.6], "nice": false},
       "axis": {"title": "T (a.u.)", "titleX": -100.5, "titleY": 272.5, "titleBaseline": "middle", "titleAlign": "center", "titleAngle": -90, "tickCount": 200,
        "values": [0,0.02,0.04,0.06,0.08,0.1,0.12,0.14,0.16,0.18,0.2,0.22,0.24,0.26,0.28,0.3,0.32,0.34,0.36,0.38,0.4,0.42,0.44,0.46,0.48,0.5,0.52,0.54,0.56,0.58,0.6],
        "labelExpr": "abs(datum.value/0.1-round(datum.value/0.1))<0.01 ? format(datum.value,'.1f') : ''",
        "tickSize": {"condition": {"test": "abs(datum.value/0.1-round(datum.value/0.1))<0.01", "value": 11}, "value": 8}}}
    }},
   {"data": {"values": [{}]}, "mark": {"type": "text", "text": "(b)", "align": "left", "baseline": "middle", "dx": -113, "dy": 2, "fontSize": 29}, "encoding": {"x": {"datum": 2.5}, "y": {"datum": 0.6}}},
   {"data": {"values": [{}]}, "mark": {"type": "text", "text": "hν", "align": "right", "baseline": "middle", "dx": -4.1, "dy": 80, "fontStyle": "italic"}, "encoding": {"x": {"datum": 2.9805}, "y": {"datum": 0}}},
   {"data": {"values": [{}]}, "mark": {"type": "text", "text": "(eV)", "align": "left", "baseline": "middle", "dx": 4.1, "dy": 80}, "encoding": {"x": {"datum": 2.9805}, "y": {"datum": 0}}}
  ]
 },
 {
  "width": 699, "height": 536.5,
  "layer": [
   {"data": {"name": "c"}, "mark": {"type": "line", "strokeWidth": 2.4, "clip": true},
    "encoding": {
     "x": {"field": "x", "type": "quantitative", "scale": {"domain": [2.5, 3.5], "nice": false, "zero": false},
       "axis": {"title": null, "offset": -76.64, "tickCount": 200, "values": [2.5,2.54,2.58,2.62,2.66,2.7,2.74,2.78,2.82,2.86,2.9,2.94,2.98,3.02,3.06,3.1,3.14,3.18,3.22,3.26,3.3,3.34,3.38,3.42,3.46,3.5],
        "labelExpr": "abs((datum.value-2.5)/0.2-round((datum.value-2.5)/0.2))<0.01 ? format(datum.value,'.1f') : ''",
        "tickSize": {"condition": {"test": "abs((datum.value-2.5)/0.2-round((datum.value-2.5)/0.2))<0.01", "value": 11}, "value": 8}}},
     "y": {"field": "y", "type": "quantitative", "scale": {"domain": [-100, 600], "nice": false, "zero": false},
       "axis": {"title": "α (cm⁻¹)", "titleX": -104.5, "titleY": 264.5, "titleBaseline": "middle", "titleAlign": "center", "titleAngle": -90, "tickCount": 200,
        "values": [-100,-80,-60,-40,-20,0,20,40,60,80,100,120,140,160,180,200,220,240,260,280,300,320,340,360,380,400,420,440,460,480,500,520,540,560,580,600],
        "labelExpr": "abs(datum.value/100-round(datum.value/100))<0.01 ? '' + round(datum.value) : ''",
        "tickSize": {"condition": {"test": "abs(datum.value/100-round(datum.value/100))<0.01", "value": 11}, "value": 8}}},
     "color": {"field": "s", "type": "nominal", "scale": {"domain": ["equaion 5", "equation 7", "equation 14"], "range": ["#C41E24", "#5B9B3A", "#0070C0"]},
       "legend": {"title": null, "orient": "none", "legendX": 7, "legendY": 14}}
    }},
   {"data": {"values": [{}]}, "mark": {"type": "text", "text": "(c)", "align": "left", "baseline": "middle", "dx": -120.4, "dy": 2, "fontSize": 29}, "encoding": {"x": {"datum": 2.5}, "y": {"datum": 600}}},
   {"data": {"values": [{}]}, "mark": {"type": "text", "text": "hν", "align": "right", "baseline": "middle", "dx": -4.1, "dy": 89.5, "fontStyle": "italic"}, "encoding": {"x": {"datum": 2.9925}, "y": {"datum": 0}}},
   {"data": {"values": [{}]}, "mark": {"type": "text", "text": "(eV)", "align": "left", "baseline": "middle", "dx": 4.1, "dy": 89.5}, "encoding": {"x": {"datum": 2.9925}, "y": {"datum": 0}}}
  ]
 },
 {
  "width": 707, "height": 474.5,
  "layer": [
   {"data": {"name": "d"}, "mark": {"type": "line", "strokeWidth": 2.4, "clip": true},
    "encoding": {
     "x": {"field": "x", "type": "quantitative", "scale": {"domain": [2.5, 3.5], "nice": false, "zero": false},
       "axis": {"title": null, "tickCount": 200, "values": [2.5,2.52,2.54,2.56,2.58,2.6,2.62,2.64,2.66,2.68,2.7,2.72,2.74,2.76,2.78,2.8,2.82,2.84,2.86,2.88,2.9,2.92,2.94,2.96,2.98,3,3.02,3.04,3.06,3.08,3.1,3.12,3.14,3.16,3.18,3.2,3.22,3.24,3.26,3.28,3.3,3.32,3.34,3.36,3.38,3.4,3.42,3.44,3.46,3.48,3.5],
        "labelExpr": "abs((datum.value-2.5)/0.2-round((datum.value-2.5)/0.2))<0.01 ? format(datum.value,'.1f') : ''",
        "tickSize": {"condition": {"test": "abs((datum.value-2.5)/0.2-round((datum.value-2.5)/0.2))<0.01", "value": 11}, "value": 8}}},
     "y": {"field": "y", "type": "quantitative", "scale": {"domain": [0, 4], "nice": false},
       "axis": {"title": "(αhν)² (cm⁻¹.eV)² ×10⁶", "titleX": -97, "titleY": 272, "titleBaseline": "middle", "titleAlign": "center", "titleAngle": -90, "tickCount": 200,
        "values": [0,0.1,0.2,0.3,0.4,0.5,0.6,0.7,0.8,0.9,1,1.1,1.2,1.3,1.4,1.5,1.6,1.7,1.8,1.9,2,2.1,2.2,2.3,2.4,2.5,2.6,2.7,2.8,2.9,3,3.1,3.2,3.3,3.4,3.5,3.6,3.7,3.8,3.9,4],
        "labelExpr": "abs(datum.value/0.5-round(datum.value/0.5))<0.01 ? format(datum.value,'.1f') : ''",
        "tickSize": {"condition": {"test": "abs(datum.value/0.5-round(datum.value/0.5))<0.01", "value": 11}, "value": 8}}},
     "color": {"field": "s", "type": "nominal", "scale": {"domain": ["Equation 5", "Equation 7", "Equation 14"], "range": ["#C41E24", "#5B9B3A", "#0070C0"]},
       "legend": {"title": null, "orient": "none", "legendX": 6, "legendY": 5}}
    }},
   {"data": {"name": "dfit"}, "mark": {"type": "line", "color": "#1F3A70", "strokeWidth": 2, "strokeDash": [6, 4], "clip": true},
    "encoding": {"x": {"field": "x", "type": "quantitative"}, "y": {"field": "y", "type": "quantitative"}, "detail": {"field": "g"}}},
   {"data": {"values": [{}]}, "mark": {"type": "text", "text": "(d)", "align": "left", "baseline": "middle", "dx": -113, "dy": 2, "fontSize": 29}, "encoding": {"x": {"datum": 2.5}, "y": {"datum": 4}}},
   {"data": {"values": [{}]}, "mark": {"type": "text", "text": "E", "align": "left", "baseline": "middle", "fontSize": 34, "fontStyle": "italic"}, "encoding": {"x": {"datum": 2.5454}, "y": {"datum": 2.398}}},
   {"data": {"values": [{}]}, "mark": {"type": "text", "text": "Dir", "align": "left", "baseline": "middle", "fontSize": 22}, "encoding": {"x": {"datum": 2.5638}, "y": {"datum": 2.6}}},
   {"data": {"values": [{}]}, "mark": {"type": "text", "text": "g,1", "align": "left", "baseline": "middle", "fontSize": 22}, "encoding": {"x": {"datum": 2.5695}, "y": {"datum": 2.26}}},
   {"data": {"values": [{}]}, "mark": {"type": "text", "text": "= 3.240 eV", "align": "left", "baseline": "middle"}, "encoding": {"x": {"datum": 2.6596}, "y": {"datum": 2.398}}},
   {"data": {"values": [{}]}, "mark": {"type": "text", "text": "E", "align": "left", "baseline": "middle", "fontSize": 34, "fontStyle": "italic"}, "encoding": {"x": {"datum": 2.5454}, "y": {"datum": 1.867}}},
   {"data": {"values": [{}]}, "mark": {"type": "text", "text": "Dir", "align": "left", "baseline": "middle", "fontSize": 22}, "encoding": {"x": {"datum": 2.5638}, "y": {"datum": 2.085}}},
   {"data": {"values": [{}]}, "mark": {"type": "text", "text": "g,2&3", "align": "left", "baseline": "middle", "fontSize": 22}, "encoding": {"x": {"datum": 2.5695}, "y": {"datum": 1.735}}},
   {"data": {"values": [{}]}, "mark": {"type": "text", "text": "= 3.245 eV", "align": "left", "baseline": "middle"}, "encoding": {"x": {"datum": 2.6596}, "y": {"datum": 1.867}}},
   {"data": {"values": [{}]}, "mark": {"type": "text", "text": "hν", "align": "right", "baseline": "middle", "dx": -4.1, "dy": 70.5, "fontStyle": "italic"}, "encoding": {"x": {"datum": 2.9805}, "y": {"datum": 0}}},
   {"data": {"values": [{}]}, "mark": {"type": "text", "text": "(eV)", "align": "left", "baseline": "middle", "dx": 4.1, "dy": 70.5}, "encoding": {"x": {"datum": 2.9805}, "y": {"datum": 0}}}
  ]
 },
 {
  "width": 711, "height": 462,
  "layer": [
   {"data": {"name": "e"}, "mark": {"type": "line", "strokeWidth": 2.4, "clip": true},
    "encoding": {
     "x": {"field": "x", "type": "quantitative", "scale": {"domain": [2.7, 3.5], "nice": false, "zero": false},
       "axis": {"title": null, "tickCount": 200, "values": [2.7,2.71,2.72,2.73,2.74,2.75,2.76,2.77,2.78,2.79,2.8,2.81,2.82,2.83,2.84,2.85,2.86,2.87,2.88,2.89,2.9,2.91,2.92,2.93,2.94,2.95,2.96,2.97,2.98,2.99,3,3.01,3.02,3.03,3.04,3.05,3.06,3.07,3.08,3.09,3.1,3.11,3.12,3.13,3.14,3.15,3.16,3.17,3.18,3.19,3.2,3.21,3.22,3.23,3.24,3.25,3.26,3.27,3.28,3.29,3.3,3.31,3.32,3.33,3.34,3.35,3.36,3.37,3.38,3.39,3.4,3.41,3.42,3.43,3.44,3.45,3.46,3.47,3.48,3.49,3.5],
        "labelExpr": "abs((datum.value-2.7)/0.2-round((datum.value-2.7)/0.2))<0.01 ? format(datum.value,'.1f') : ''",
        "tickSize": {"condition": {"test": "abs((datum.value-2.7)/0.2-round((datum.value-2.7)/0.2))<0.01", "value": 11}, "value": 8}}},
     "y": {"field": "y", "type": "quantitative", "scale": {"domain": [0, 50], "nice": false},
       "axis": {"title": "(αhν)¹ᐟ² (cm⁻¹.eV)¹ᐟ²", "titleX": -91, "titleY": 270, "titleBaseline": "middle", "titleAlign": "center", "titleAngle": -90, "tickCount": 200,
        "values": [0,1,2,3,4,5,6,7,8,9,10,11,12,13,14,15,16,17,18,19,20,21,22,23,24,25,26,27,28,29,30,31,32,33,34,35,36,37,38,39,40,41,42,43,44,45,46,47,48,49,50],
        "labelExpr": "abs(datum.value/5-round(datum.value/5))<0.01 ? '' + round(datum.value) : ''",
        "tickSize": {"condition": {"test": "abs(datum.value/5-round(datum.value/5))<0.01", "value": 11}, "value": 8}}},
     "color": {"field": "s", "type": "nominal", "scale": {"domain": ["Equation 5", "Equation 7", "Equation 14"], "range": ["#C41E24", "#5B9B3A", "#0070C0"]},
       "legend": {"title": null, "orient": "none", "legendX": 5, "legendY": 4}}
    }},
   {"data": {"name": "efitO"}, "mark": {"type": "line", "color": "#E07B39", "strokeWidth": 2.4, "strokeDash": [9, 6], "clip": true},
    "encoding": {"x": {"field": "x", "type": "quantitative"}, "y": {"field": "y", "type": "quantitative"}, "detail": {"field": "g"}}},
   {"data": {"name": "efitN"}, "mark": {"type": "line", "color": "#1F3A70", "strokeWidth": 2.4, "strokeDash": [9, 6], "clip": true},
    "encoding": {"x": {"field": "x", "type": "quantitative"}, "y": {"field": "y", "type": "quantitative"}, "detail": {"field": "g"}}},
   {"data": {"values": [{}]}, "mark": {"type": "text", "text": "(e)", "align": "left", "baseline": "middle", "dx": -120.4, "dy": 2, "fontSize": 29}, "encoding": {"x": {"datum": 2.7}, "y": {"datum": 50}}},
   {"data": {"values": [{}]}, "mark": {"type": "text", "text": "E", "align": "left", "baseline": "middle", "fontSize": 34, "fontStyle": "italic"}, "encoding": {"x": {"datum": 2.7325}, "y": {"datum": 29.87}}},
   {"data": {"values": [{}]}, "mark": {"type": "text", "text": "inDir", "align": "left", "baseline": "middle", "fontSize": 22}, "encoding": {"x": {"datum": 2.7449}, "y": {"datum": 32.6}}},
   {"data": {"values": [{}]}, "mark": {"type": "text", "text": "g,5", "align": "left", "baseline": "middle", "fontSize": 22}, "encoding": {"x": {"datum": 2.7505}, "y": {"datum": 28.45}}},
   {"data": {"values": [{}]}, "mark": {"type": "text", "text": "= 3.174 eV", "align": "left", "baseline": "middle"}, "encoding": {"x": {"datum": 2.829}, "y": {"datum": 29.87}}},
   {"data": {"values": [{}]}, "mark": {"type": "text", "text": "E", "align": "left", "baseline": "middle", "fontSize": 34, "fontStyle": "italic"}, "encoding": {"x": {"datum": 2.7325}, "y": {"datum": 24.13}}},
   {"data": {"values": [{}]}, "mark": {"type": "text", "text": "inDir", "align": "left", "baseline": "middle", "fontSize": 22}, "encoding": {"x": {"datum": 2.7449}, "y": {"datum": 26.5}}},
   {"data": {"values": [{}]}, "mark": {"type": "text", "text": "g,7&14", "align": "left", "baseline": "middle", "fontSize": 22}, "encoding": {"x": {"datum": 2.7505}, "y": {"datum": 22.7}}},
   {"data": {"values": [{}]}, "mark": {"type": "text", "text": "= 3.199 eV", "align": "left", "baseline": "middle"}, "encoding": {"x": {"datum": 2.8313}, "y": {"datum": 24.13}}},
   {"data": {"values": [{}]}, "mark": {"type": "text", "text": "hν", "align": "right", "baseline": "middle", "dx": -4.1, "dy": 81, "fontStyle": "italic"}, "encoding": {"x": {"datum": 3.089}, "y": {"datum": 0}}},
   {"data": {"values": [{}]}, "mark": {"type": "text", "text": "(eV)", "align": "left", "baseline": "middle", "dx": 4.1, "dy": 81}, "encoding": {"x": {"datum": 3.089}, "y": {"datum": 0}}}
  ]
 },
 {
  "width": 694.5, "height": 464,
  "layer": [
   {"data": {"name": "f"}, "mark": {"type": "line", "strokeWidth": 2.4, "clip": true},
    "encoding": {
     "x": {"field": "x", "type": "quantitative", "scale": {"domain": [2.95, 3.45], "nice": false, "zero": false},
       "axis": {"title": null, "tickCount": 200, "values": [2.95,2.97,2.99,3.01,3.03,3.05,3.07,3.09,3.11,3.13,3.15,3.17,3.19,3.21,3.23,3.25,3.27,3.29,3.31,3.33,3.35,3.37,3.39,3.41,3.43,3.45],
        "labelExpr": "abs((datum.value-2.95)/0.1-round((datum.value-2.95)/0.1))<0.01 ? format(datum.value,'.2f') : ''",
        "tickSize": {"condition": {"test": "abs((datum.value-2.95)/0.1-round((datum.value-2.95)/0.1))<0.01", "value": 11}, "value": 8}}},
     "y": {"field": "y", "type": "quantitative", "scale": {"domain": [4, 6.5], "nice": false, "zero": false},
       "axis": {"title": "ln(α)", "titleX": -102, "titleY": 267.5, "titleBaseline": "middle", "titleAlign": "center", "titleAngle": -90, "tickCount": 200,
        "values": [4,4.1,4.2,4.3,4.4,4.5,4.6,4.7,4.8,4.9,5,5.1,5.2,5.3,5.4,5.5,5.6,5.7,5.8,5.9,6,6.1,6.2,6.3,6.4,6.5],
        "labelExpr": "abs(datum.value/0.5-round(datum.value/0.5))<0.01 ? format(datum.value,'.1f') : ''",
        "tickSize": {"condition": {"test": "abs(datum.value/0.5-round(datum.value/0.5))<0.01", "value": 11}, "value": 8}}},
     "color": {"field": "s", "type": "nominal", "scale": {"domain": ["Euqation 5", "Equation 7", "Equation 14"], "range": ["#C41E24", "#5B9B3A", "#0070C0"]},
       "legend": {"title": null, "orient": "none", "legendX": 3, "legendY": 9.5}}
    }},
   {"data": {"name": "ffit"}, "mark": {"type": "line", "color": "#FFC000", "strokeWidth": 2.2, "strokeDash": [7, 5], "clip": true},
    "encoding": {"x": {"field": "x", "type": "quantitative"}, "y": {"field": "y", "type": "quantitative"}, "detail": {"field": "g"}}},
   {"data": {"values": [{}]}, "mark": {"type": "text", "text": "(f)", "align": "left", "baseline": "middle", "dx": -113, "dy": 2, "fontSize": 29}, "encoding": {"x": {"datum": 2.95}, "y": {"datum": 6.5}}},
   {"data": {"values": [{}]}, "mark": {"type": "text", "text": "E", "align": "left", "baseline": "middle", "fontSize": 34, "fontStyle": "italic"}, "encoding": {"x": {"datum": 3.2712}, "y": {"datum": 5.4}}},
   {"data": {"values": [{}]}, "mark": {"type": "text", "text": "5", "align": "left", "baseline": "middle", "fontSize": 22}, "encoding": {"x": {"datum": 3.285}, "y": {"datum": 5.46}}},
   {"data": {"values": [{}]}, "mark": {"type": "text", "text": "U", "align": "left", "baseline": "middle", "fontSize": 22}, "encoding": {"x": {"datum": 3.284}, "y": {"datum": 5.31}}},
   {"data": {"values": [{}]}, "mark": {"type": "text", "text": "= 0.287 eV", "align": "left", "baseline": "middle"}, "encoding": {"x": {"datum": 3.3269}, "y": {"datum": 5.4}}},
   {"data": {"values": [{}]}, "mark": {"type": "text", "text": "E", "align": "left", "baseline": "middle", "fontSize": 34, "fontStyle": "italic"}, "encoding": {"x": {"datum": 3.2712}, "y": {"datum": 5.118}}},
   {"data": {"values": [{}]}, "mark": {"type": "text", "text": "7&14", "align": "left", "baseline": "middle", "fontSize": 22}, "encoding": {"x": {"datum": 3.285}, "y": {"datum": 5.178}}},
   {"data": {"values": [{}]}, "mark": {"type": "text", "text": "U", "align": "left", "baseline": "middle", "fontSize": 22}, "encoding": {"x": {"datum": 3.284}, "y": {"datum": 5.028}}},
   {"data": {"values": [{}]}, "mark": {"type": "text", "text": "= 0.281 eV", "align": "left", "baseline": "middle"}, "encoding": {"x": {"datum": 3.3269}, "y": {"datum": 5.118}}},
   {"data": {"values": [{}]}, "mark": {"type": "text", "text": "hν", "align": "right", "baseline": "middle", "dx": -4.1, "dy": 78, "fontStyle": "italic"}, "encoding": {"x": {"datum": 3.194}, "y": {"datum": 4}}},
   {"data": {"values": [{}]}, "mark": {"type": "text", "text": "(eV)", "align": "left", "baseline": "middle", "dx": 4.1, "dy": 78}, "encoding": {"x": {"datum": 3.194}, "y": {"datum": 4}}}
  ]
 }
]
}
